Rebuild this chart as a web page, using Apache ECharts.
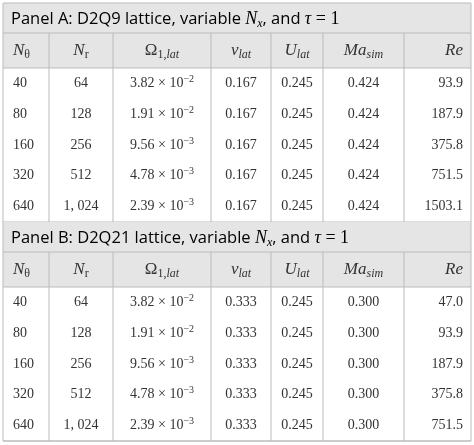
<!DOCTYPE html>
<html><head><meta charset="utf-8">
<script src="https://cdn.jsdelivr.net/npm/echarts@6/dist/echarts.min.js"></script>
<style>html,body{margin:0;padding:0;background:#fff}#c{width:474px;height:445px}</style>
</head><body><div id="c"></div>
<script>
const panelTitles = ["Panel A: D2Q9 lattice, variable ", "Panel B: D2Q21 lattice, variable "];
const nTheta = ["40", "80", "160", "320", "640"];
const nR = ["64", "128", "256", "512", "1, 024"];
const omegaMant = ["3.82", "1.91", "9.56", "4.78", "2.39"];
const omegaExp = ["−2", "−2", "−3", "−3", "−3"];
const nuA = ["0.167", "0.167", "0.167", "0.167", "0.167"];
const uA = ["0.245", "0.245", "0.245", "0.245", "0.245"];
const maA = ["0.424", "0.424", "0.424", "0.424", "0.424"];
const reA = ["93.9", "187.9", "375.8", "751.5", "1503.1"];
const nuB = ["0.333", "0.333", "0.333", "0.333", "0.333"];
const uB = ["0.245", "0.245", "0.245", "0.245", "0.245"];
const maB = ["0.300", "0.300", "0.300", "0.300", "0.300"];
const reB = ["47.0", "93.9", "187.9", "375.8", "751.5"];
const headers = ["{h|N}{s|θ}", "{h|N}{s|r}", "{hr|Ω}{s|1,}{si|lat}", "{h|ν}{si|lat}", "{h|U}{si|lat}", "{h|Ma}{si|sim}", "{h|Re}"];

const colX = [3, 49, 113, 211, 271, 323, 404, 471];
const serif = "Liberation Serif";
const rich = {
  r: {fontFamily: serif, fontSize: 14, color: '#333'},
  h: {fontFamily: serif, fontSize: 17, fontStyle: 'italic', color: '#333'},
  hr: {fontFamily: serif, fontSize: 17, color: '#333'},
  s: {fontFamily: serif, fontSize: 12, color: '#333', padding: [9, 0, 0, 0]},
  si: {fontFamily: serif, fontSize: 12, fontStyle: 'italic', color: '#333', padding: [9, 0, 0, 0]},
  p: {fontFamily: serif, fontSize: 10, color: '#333', padding: [0, 0, 8, 0]}
};
const els = [];
function cellText(ci, y, txt) {
  let x, align;
  if (ci === 0) { x = colX[0] + 10; align = 'left'; }
  else if (ci === 6) { x = colX[7] - 8; align = 'right'; }
  else { x = (colX[ci] + colX[ci + 1]) / 2; align = 'center'; }
  els.push({type: 'text', x: x, y: y, style: {text: txt, rich: rich, align: align, verticalAlign: 'middle', fontFamily: serif, fontSize: 14, fill: '#333'}, z: 10});
}
function panel(top, title, nu, u, ma, re) {
  const titleH = 30, headH = 35, rowH = 30.8;
  els.push({type: 'rect', shape: {x: 3, y: top, width: 468, height: titleH + headH}, style: {fill: '#e5e5e5'}});
  els.push({type: 'text', x: 11, y: top + titleH / 2 + 1, style: {text: '{t|' + title + '}{ti|N}{ts|x}{t|, and }{ti|τ}{tr| = 1}', rich: {
    t: {fontFamily: 'Open Sans', fontSize: 16.5, color: '#333'},
    ti: {fontFamily: serif, fontSize: 18, fontStyle: 'italic', color: '#333'},
    tr: {fontFamily: serif, fontSize: 18, color: '#333'},
    ts: {fontFamily: serif, fontSize: 12, fontStyle: 'italic', color: '#333', padding: [9, 0, 0, 0]}
  }, verticalAlign: 'middle'}});
  els.push({type: 'line', shape: {x1: 3, y1: top + titleH, x2: 471, y2: top + titleH}, style: {stroke: '#bbb', lineWidth: 1}});
  els.push({type: 'line', shape: {x1: 3, y1: top + titleH + headH, x2: 471, y2: top + titleH + headH}, style: {stroke: '#bbb', lineWidth: 1}});
  const y0 = top + titleH, y1 = top + titleH + headH + rowH * 5;
  for (let k = 1; k < 7; k++) els.push({type: 'line', shape: {x1: colX[k], y1: y0, x2: colX[k], y2: y1}, style: {stroke: '#bbb', lineWidth: 1}});
  headers.forEach((h, ci) => cellText(ci, y0 + headH / 2, h));
  for (let r = 0; r < 5; r++) {
    const y = y0 + headH + rowH * r + rowH / 2;
    const row = ['{r|' + nTheta[r] + '}', '{r|' + nR[r] + '}', '{r|' + omegaMant[r] + ' × 10}{p|' + omegaExp[r] + '}', '{r|' + nu[r] + '}', '{r|' + u[r] + '}', '{r|' + ma[r] + '}', '{r|' + re[r] + '}'];
    row.forEach((t, ci) => cellText(ci, y, t));
  }
  els.push({type: 'line', shape: {x1: 3, y1: y1, x2: 471, y2: y1}, style: {stroke: '#bbb', lineWidth: 1}});
  return y1;
}
const endA = panel(3, panelTitles[0], nuA, uA, maA, reA);
const endB = panel(endA, panelTitles[1], nuB, uB, maB, reB);
els.push({type: 'rect', shape: {x: 3, y: 3, width: 468, height: endB - 3}, style: {fill: 'none', stroke: '#bbb', lineWidth: 1}, z: 20});
const chart = echarts.init(document.getElementById('c'));
chart.setOption({graphic: {elements: els}});
</script></body></html>
